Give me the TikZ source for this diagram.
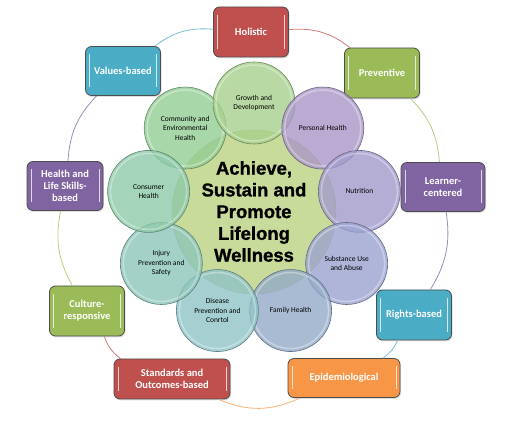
\documentclass[tikz,border=0pt]{standalone}
\usepackage{fontspec}
\setmainfont{Carlito}
\newfontfamily\titlefont[FakeBold=1.2]{Liberation Sans Bold}
\usetikzlibrary{shadows,calc}
\definecolor{cred}{HTML}{C0504D}
\definecolor{cblue}{HTML}{4BACC6}
\definecolor{cgreen}{HTML}{9BBB59}
\definecolor{cpurple}{HTML}{8064A2}
\definecolor{corange}{HTML}{F79646}
\definecolor{pgrowth}{HTML}{A6D08C}
\definecolor{pcommunity}{HTML}{92CD93}
\definecolor{pconsumer}{HTML}{8DC9A8}
\definecolor{pinjury}{HTML}{8CC5B9}
\definecolor{pdisease}{HTML}{8FC3C6}
\definecolor{pfamily}{HTML}{92AAC8}
\definecolor{psubstance}{HTML}{9AA3CF}
\definecolor{pnutrition}{HTML}{A19ACB}
\definecolor{ppersonal}{HTML}{AA96C7}
\definecolor{ccenter}{HTML}{C9DB9A}
\tikzset{
  box/.style={rectangle, rounded corners=6pt, draw=black!70, line width=0.8pt,
    text=white, font=\fontsize{10.5}{12}\selectfont\bfseries, align=center,
    inner sep=2pt,
    drop shadow={opacity=0.25, shadow xshift=1pt, shadow yshift=-1.5pt},
    path picture={
      \draw[white, opacity=0.75, line width=1pt]
        ([xshift=4pt,yshift=-8pt]path picture bounding box.north west) --
        ([xshift=4pt,yshift=8pt]path picture bounding box.south west);
      \draw[white, opacity=0.75, line width=1pt]
        ([xshift=-4pt,yshift=-8pt]path picture bounding box.north east) --
        ([xshift=-4pt,yshift=8pt]path picture bounding box.south east);
    }},
  petal/.style={circle, minimum size=82pt, inner sep=0pt, draw=#1!65!black,
    line width=0.6pt, fill=#1, fill opacity=0.8, text opacity=1,
    font=\fontsize{7.5}{9.5}\selectfont, align=center, text=black,
    path picture={
      \draw[white, opacity=0.35, line width=1.5pt]
        (path picture bounding box.center) circle (38pt);
    }},
  ring/.style={line width=0.8pt, draw=#1!75!white},
}
\begin{document}
\begin{tikzpicture}[x=1pt,y=1pt]
\useasboundingbox (0,0) rectangle (525,428);
% outer boxes
\node[box, fill=cred, minimum width=75pt, minimum height=50pt] (holistic) at (251,396) {Holistic};
\node[box, fill=cgreen, minimum width=75pt, minimum height=50pt] (preventive) at (382,355) {Preventive};
\node[box, fill=cpurple, minimum width=84pt, minimum height=49pt] (learner) at (443,241) {Learner-\\centered};
\node[box, fill=cblue, minimum width=75pt, minimum height=50pt] (rights) at (414,113) {Rights-based};
\node[box, fill=corange, minimum width=112pt, minimum height=39pt] (epidem) at (344,50) {Epidemiological};
\node[box, fill=cred, minimum width=116pt, minimum height=40pt] (standards) at (172,49) {Standards and\\Outcomes-based};
\node[box, fill=cgreen, minimum width=75pt, minimum height=50pt] (culture) at (87,117) {Culture-\\responsive};
\node[box, fill=cpurple, minimum width=76pt, minimum height=49pt] (health) at (65,242) {Health and\\Life Skills-\\based};
\node[box, fill=cblue, minimum width=75pt, minimum height=49pt] (values) at (123,357) {Values-based};
% ring
\draw[ring=cred] (holistic) to[bend left=21] (preventive);
\draw[ring=cgreen] (preventive) to[bend left=20] (learner);
\draw[ring=cpurple] (learner) to[bend left=20] (rights);
\draw[ring=cblue] (rights) to[bend left=15] (epidem);
\draw[ring=corange] (epidem) to[bend left=24] (standards);
\draw[ring=cred] (standards) to[bend left=17] (culture);
\draw[ring=cgreen] (culture) to[bend left=20] (health);
\draw[ring=cpurple] (health) to[bend left=20] (values);
\draw[ring=cblue] (values) to[bend left=21] (holistic);
% inner cluster
\coordinate (c) at (254,218);
\node[circle, minimum size=164pt, inner sep=0pt, fill=ccenter, draw=ccenter!85!black, line width=0.5pt] (core) at (254,216) {};
\node[petal=pcommunity] (community) at ($(c)+(130:107)$) {Community and\\Environmental\\Health};
\node[petal=pgrowth] (growth) at ($(c)+(90:107)$) {Growth and\\Development};
\node[petal=ppersonal] (personal) at ($(c)+(50:107)$) {Personal Health};
\node[petal=pnutrition] (nutrition) at ($(c)+(10:107)$) {Nutrition};
\node[petal=psubstance] (substance) at ($(c)+(-30:107)$) {Substance Use\\and Abuse};
\node[petal=pfamily] (family) at ($(c)+(-70:107)$) {Family Health};
\node[petal=pdisease] (disease) at ($(c)+(-110:107)$) {Disease\\Prevention and\\Conrtol};
\node[petal=pinjury] (injury) at ($(c)+(-150:107)$) {Injury\\Prevention and\\Safety};
\node[petal=pconsumer] (consumer) at ($(c)+(170:107)$) {Consumer\\Health};
\node[align=center, font=\titlefont\fontsize{18.5}{21.75}\selectfont, text=black] (title) at (254,216.5)
  {Achieve,\\Sustain and\\Promote\\Lifelong\\Wellness};
\end{tikzpicture}
\end{document}
